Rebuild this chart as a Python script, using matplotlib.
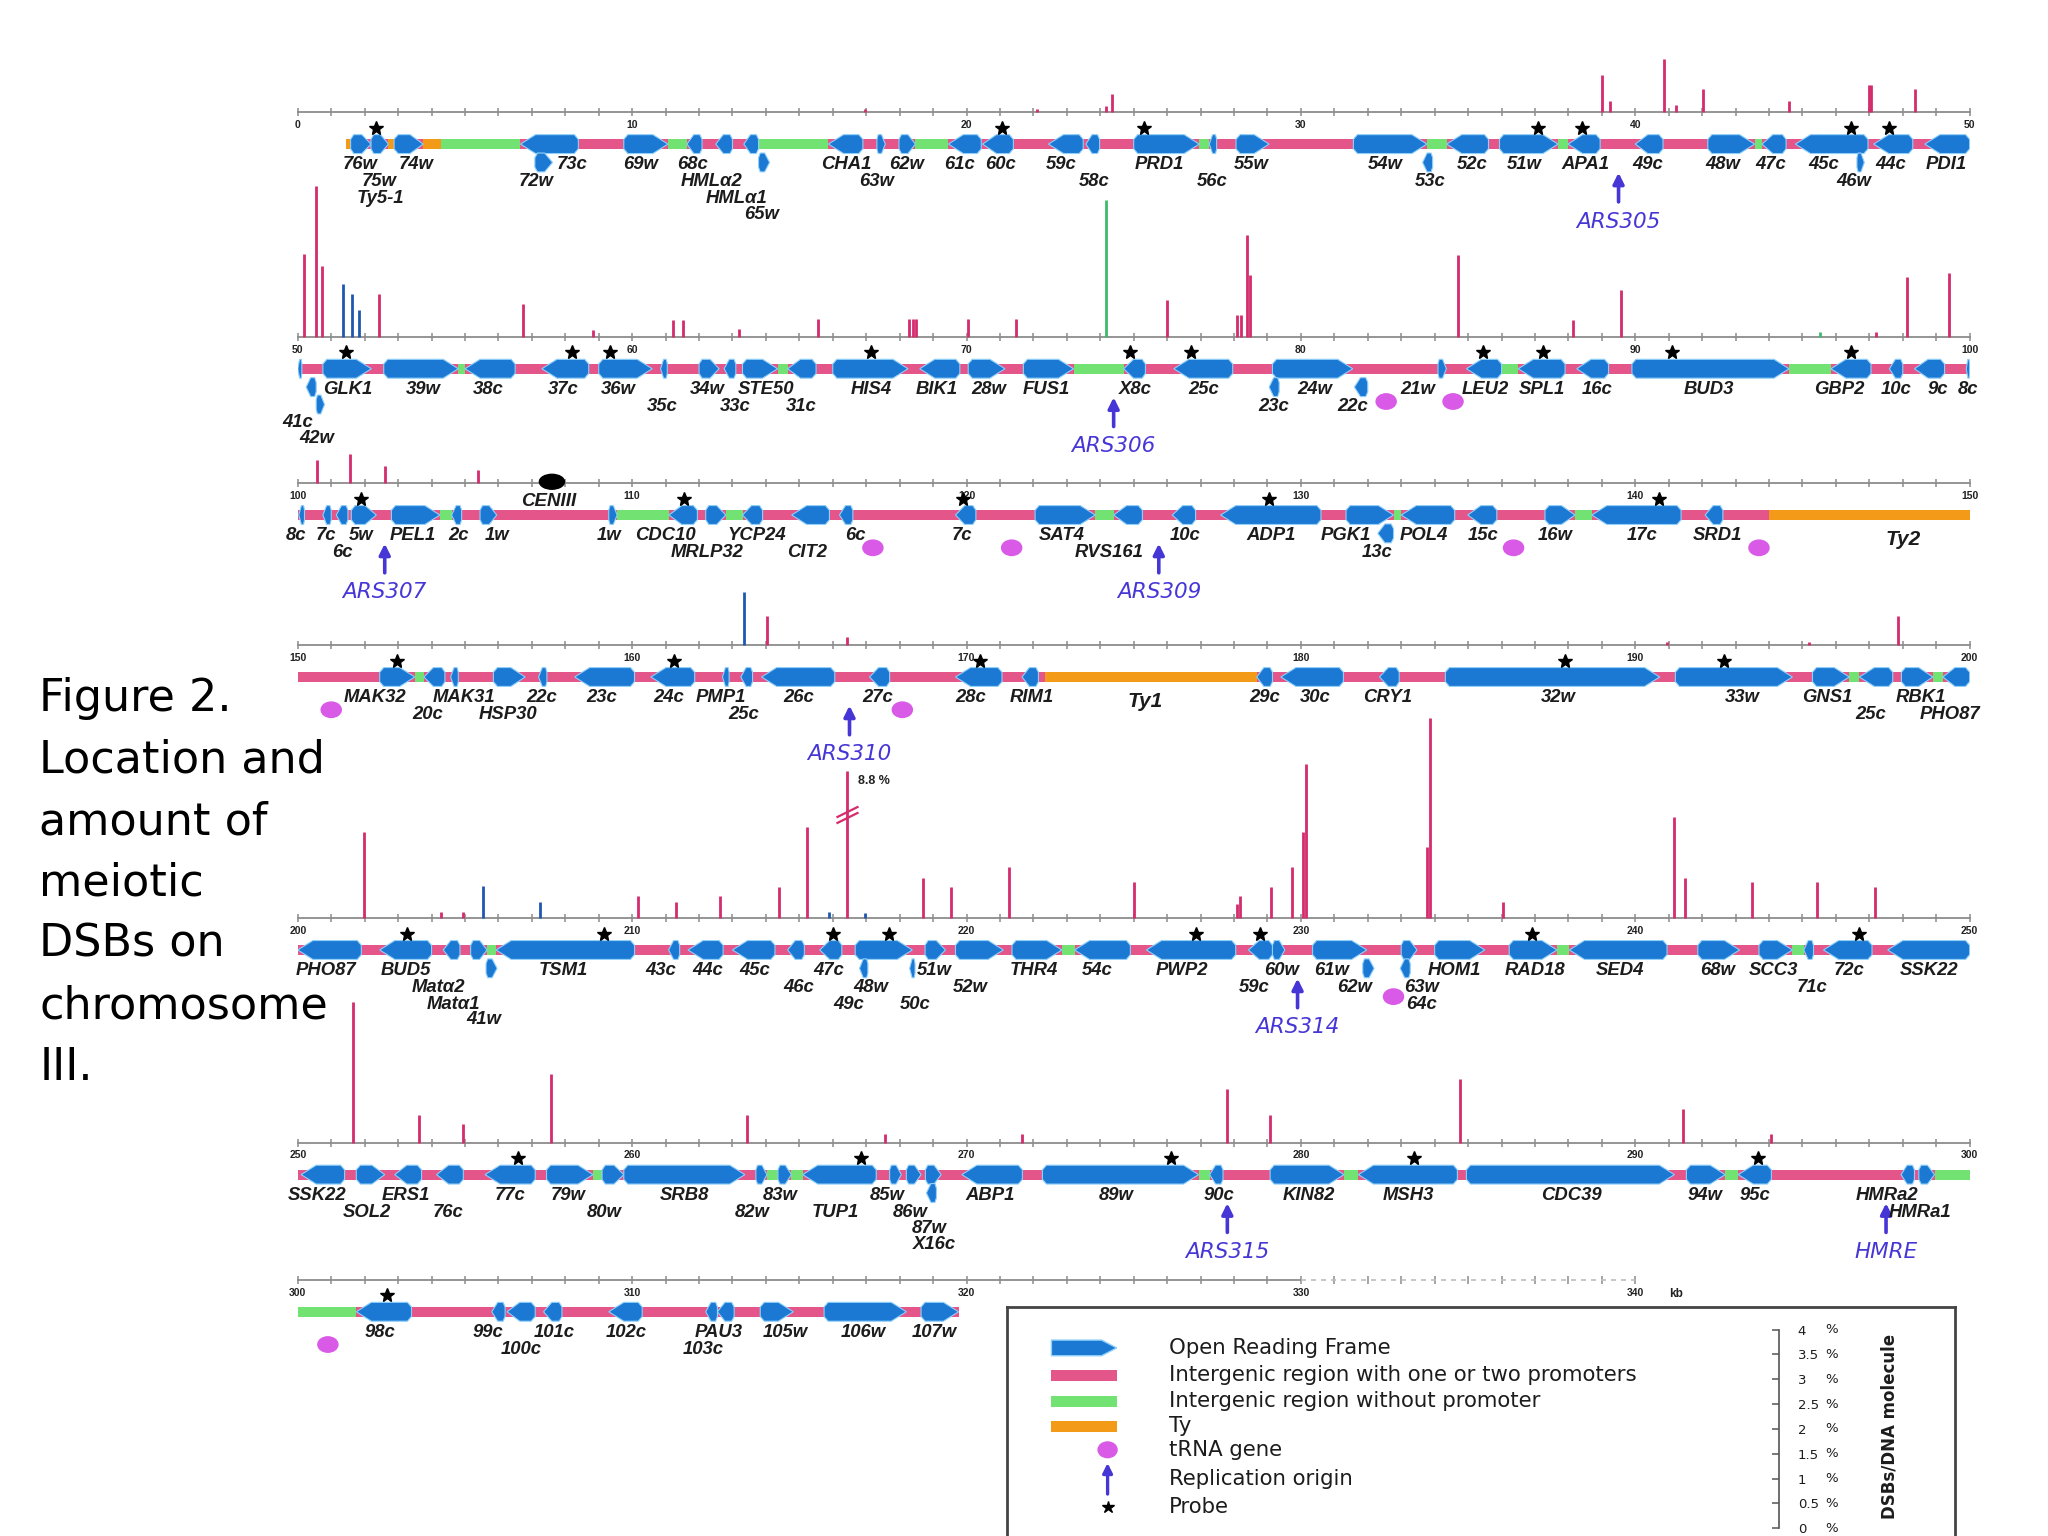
import matplotlib
matplotlib.use("Agg")
import matplotlib.pyplot as plt
from matplotlib.patches import Polygon, Rectangle, Ellipse
from matplotlib.ticker import FixedLocator, FixedFormatter
from matplotlib import font_manager as fm

# ---------------- DATA : positions in kb along chromosome III, DSBs in % ----------------
ROW_STARTS = [0, 50, 100, 150, 200, 250, 300]
CHR_START, CHR_END = 1.45, 319.76

green_regions = [(4.29, 6.66), (11.07, 11.64), (13.78, 15.87), (18.47, 19.46), (26.96, 27.26),
                 (33.77, 34.36), (37.69, 37.99), (43.57, 43.79),
                 (54.8, 55.0), (64.35, 64.65), (73.2, 74.7), (86.0, 86.5), (94.6, 95.85),
                 (104.25, 104.6), (109.55, 111.1), (112.8, 113.3), (123.85, 124.4), (132.77, 133.0),
                 (138.2, 138.7), (153.5, 153.77), (196.4, 196.7), (198.9, 199.2),
                 (205.66, 205.93), (222.85, 223.23), (237.66, 238.03), (244.7, 245.04),
                 (258.83, 259.1), (264.03, 264.36), (264.76, 265.1), (276.94, 277.27), (281.29, 281.72),
                 (292.69, 293.08), (298.95, 301.75)]
ty_regions = [(1.45, 1.58), (2.71, 2.88), (3.75, 4.29), (143.99, 150.0), (172.35, 178.68)]

# open reading frames on the main track: (start, end, strand)
orfs = [
    (1.58, 2.19, 'w'), (2.19, 2.71, 'w'), (2.88, 3.75, 'w'), (6.66, 8.39, 'c'), (9.75, 11.07, 'w'),
    (11.64, 12.09, 'c'), (12.5, 13.0, 'c'), (13.34, 13.78, 'c'), (15.87, 16.9, 'c'), (17.32, 17.57, 'w'),
    (17.98, 18.47, 'w'), (19.46, 20.44, 'c'), (20.48, 21.4, 'c'), (22.45, 23.49, 'c'), (23.57, 23.98, 'c'),
    (25.0, 26.96, 'w'), (27.26, 27.48, 'c'), (28.06, 29.05, 'w'), (31.57, 33.77, 'w'), (34.36, 35.61, 'c'),
    (35.94, 37.69, 'w'), (37.99, 38.95, 'c'), (40.0, 40.83, 'c'), (42.17, 43.57, 'w'), (43.79, 44.51, 'c'),
    (44.79, 46.96, 'c'), (47.13, 48.3, 'c'), (48.66, 50.0, 'c'),
    (50.0, 50.12, 'c'), (50.75, 52.2, 'w'), (52.57, 54.8, 'w'), (55.0, 56.5, 'c'), (57.3, 58.7, 'c'),
    (59.0, 60.6, 'w'), (60.85, 61.05, 'c'), (62.0, 62.6, 'w'), (62.75, 63.1, 'c'), (63.3, 64.35, 'w'),
    (64.65, 65.5, 'c'), (66.0, 68.25, 'w'), (68.6, 69.8, 'c'), (70.05, 71.15, 'w'), (71.7, 73.2, 'w'),
    (74.7, 75.35, 'c'), (76.2, 77.96, 'c'), (79.15, 81.55, 'w'), (84.1, 84.35, 'w'), (84.95, 86.0, 'c'),
    (86.5, 87.9, 'c'), (88.25, 89.2, 'c'), (89.9, 94.6, 'w'), (95.85, 97.05, 'c'), (97.6, 98.0, 'c'),
    (98.35, 99.25, 'c'), (99.9, 100.0, 'c'),
    (100.03, 100.2, 'c'), (100.75, 101.0, 'c'), (101.15, 101.5, 'c'), (101.6, 102.35, 'w'),
    (102.8, 104.25, 'w'), (104.6, 104.9, 'c'), (105.45, 105.95, 'w'), (109.3, 109.55, 'w'),
    (111.1, 111.95, 'c'), (112.2, 112.8, 'w'), (113.3, 113.9, 'c'), (114.77, 115.9, 'c'), (116.2, 116.6, 'c'),
    (119.67, 120.28, 'c'), (122.05, 123.85, 'w'), (124.4, 125.26, 'c'), (126.15, 126.85, 'c'),
    (127.6, 130.6, 'c'), (131.35, 132.77, 'w'), (133.0, 134.6, 'c'), (134.99, 135.86, 'c'),
    (137.3, 138.2, 'w'), (138.7, 141.37, 'c'), (142.09, 142.62, 'c'),
    (152.45, 153.5, 'w'), (153.77, 154.4, 'c'), (154.57, 154.8, 'c'), (155.85, 156.8, 'w'),
    (157.2, 157.45, 'c'), (158.28, 160.07, 'c'), (160.56, 161.87, 'c'), (162.7, 162.9, 'c'),
    (163.25, 163.6, 'c'), (163.87, 166.06, 'c'), (167.1, 167.7, 'c'), (169.67, 171.06, 'c'),
    (171.66, 172.15, 'c'), (178.68, 179.15, 'c'), (179.4, 181.27, 'c'), (182.35, 182.94, 'c'),
    (184.32, 190.73, 'w'), (191.2, 194.7, 'w'), (195.3, 196.4, 'w'), (196.7, 197.7, 'c'),
    (197.96, 198.9, 'w'), (199.2, 200.0, 'c'),
    (200.0, 201.9, 'c'), (202.45, 204.0, 'c'), (204.35, 204.85, 'c'), (205.17, 205.66, 'w'),
    (205.93, 210.07, 'c'), (211.09, 211.42, 'c'), (211.67, 212.72, 'c'), (213.0, 214.27, 'c'),
    (214.65, 215.15, 'c'), (215.61, 216.27, 'c'), (216.67, 218.38, 'w'), (218.76, 219.37, 'w'),
    (219.67, 221.1, 'w'), (221.36, 222.85, 'w'), (223.23, 224.9, 'c'), (225.38, 228.05, 'c'),
    (228.43, 229.15, 'c'), (229.15, 229.52, 'w'), (230.35, 231.97, 'w'), (233.0, 233.47, 'w'),
    (234.0, 235.5, 'w'), (236.23, 237.66, 'w'), (238.03, 240.95, 'c'), (241.87, 243.12, 'w'),
    (243.7, 244.7, 'w'), (245.04, 245.33, 'c'), (245.63, 247.08, 'c'), (247.55, 250.0, 'c'),
    (250.1, 251.4, 'c'), (251.75, 252.6, 'w'), (252.9, 253.7, 'c'), (254.15, 254.95, 'c'),
    (255.6, 257.1, 'c'), (257.44, 258.83, 'w'), (259.1, 259.75, 'w'), (259.75, 263.37, 'w'),
    (263.7, 264.03, 'w'), (264.36, 264.76, 'w'), (265.1, 267.3, 'c'), (267.7, 268.05, 'w'),
    (268.2, 268.64, 'w'), (268.77, 269.24, 'w'), (269.86, 271.67, 'c'), (272.27, 276.94, 'w'),
    (277.27, 277.67, 'c'), (279.08, 281.29, 'w'), (281.72, 284.68, 'c'), (284.95, 291.17, 'w'),
    (291.53, 292.69, 'w'), (293.08, 294.07, 'c'), (297.95, 298.35, 'c'), (298.48, 298.95, 'w'),
    (301.75, 303.4, 'c'), (305.8, 306.2, 'c'), (306.26, 307.1, 'c'), (307.35, 307.9, 'c'),
    (309.3, 310.3, 'c'), (312.2, 312.55, 'c'), (312.55, 313.05, 'c'), (313.83, 314.82, 'w'),
    (315.74, 318.2, 'w'), (318.64, 319.76, 'w'),
]
# ORFs drawn just below the track: (start, end, strand, lane)
offset_orfs = [(7.09, 7.62, 'w', 1), (13.78, 14.11, 'w', 1), (33.64, 33.94, 'c', 1), (46.63, 46.85, 'w', 1),
               (50.25, 50.55, 'c', 1), (50.55, 50.8, 'w', 2), (79.05, 79.35, 'c', 1), (81.6, 82.0, 'c', 1),
               (132.3, 132.77, 'c', 1), (205.63, 205.96, 'w', 1), (216.8, 217.05, 'c', 1),
               (218.3, 218.46, 'c', 1), (231.85, 232.19, 'w', 1), (232.97, 233.27, 'c', 1),
               (268.8, 269.1, 'c', 1)]

gene_labels = [
    ("76w", 1.86, 1), ("75w", 2.43, 2), ("Ty5-1", 2.48, 3), ("74w", 3.54, 1), ("72w", 7.12, 2),
    ("73c", 8.19, 1), ("69w", 10.25, 1), ("68c", 11.81, 1), ("HMLα2", 12.38, 2), ("HMLα1", 13.13, 3),
    ("65w", 13.87, 4), ("CHA1", 16.41, 1), ("63w", 17.32, 2), ("62w", 18.22, 1), ("61c", 19.79, 1),
    ("60c", 21.02, 1), ("59c", 22.83, 1), ("58c", 23.82, 2), ("PRD1", 25.76, 1), ("56c", 27.35, 2),
    ("55w", 28.51, 1), ("54w", 32.52, 1), ("53c", 33.86, 2), ("52c", 35.11, 1), ("51w", 36.69, 1),
    ("APA1", 38.5, 1), ("49c", 40.37, 1), ("48w", 42.62, 1), ("47c", 44.04, 1), ("45c", 45.63, 1),
    ("46w", 46.54, 2), ("44c", 47.63, 1), ("PDI1", 49.3, 1),
    ("41c", 50.0, 3), ("42w", 50.58, 4), ("GLK1", 51.5, 1), ("39w", 53.76, 1), ("38c", 55.7, 1),
    ("37c", 57.95, 1), ("36w", 59.6, 1), ("35c", 60.9, 2), ("34w", 62.25, 1), ("33c", 63.08, 2),
    ("STE50", 63.99, 1), ("31c", 65.07, 2), ("HIS4", 67.14, 1), ("BIK1", 69.12, 1), ("28w", 70.66, 1),
    ("FUS1", 72.4, 1), ("X8c", 75.05, 1), ("25c", 77.1, 1), ("23c", 79.2, 2), ("24w", 80.4, 1),
    ("22c", 81.55, 2), ("21w", 83.5, 1), ("LEU2", 85.5, 1), ("SPL1", 87.2, 1), ("16c", 88.85, 1),
    ("BUD3", 92.2, 1), ("GBP2", 96.1, 1), ("10c", 97.8, 1), ("9c", 99.05, 1),
    ("8c", 99.95, 1), ("7c", 100.83, 1), ("6c", 101.32, 2), ("5w", 101.9, 1), ("PEL1", 103.44, 1),
    ("2c", 104.8, 1), ("1w", 105.96, 1), ("1w", 109.3, 1), ("CDC10", 110.98, 1), ("MRLP32", 112.25, 2),
    ("YCP24", 113.74, 1), ("CIT2", 115.23, 2), ("6c", 116.69, 1), ("7c", 119.87, 1), ("SAT4", 122.85, 1),
    ("RVS161", 124.26, 2), ("10c", 126.54, 1), ("ADP1", 129.1, 1), ("PGK1", 131.35, 1), ("13c", 132.28, 2),
    ("POL4", 133.69, 1), ("15c", 135.44, 1), ("16w", 137.6, 1), ("17c", 140.2, 1), ("SRD1", 142.45, 1),
    ("MAK32", 152.32, 1), ("20c", 153.89, 2), ("MAK31", 154.97, 1), ("HSP30", 156.3, 2), ("22c", 157.28, 1),
    ("23c", 159.1, 1), ("24c", 161.09, 1), ("PMP1", 162.66, 1), ("25c", 163.33, 2), ("26c", 164.98, 1),
    ("27c", 167.34, 1), ("28c", 170.12, 1), ("RIM1", 171.94, 1), ("29c", 178.93, 1), ("30c", 180.43, 1),
    ("CRY1", 182.6, 1), ("32w", 187.69, 1), ("33w", 193.2, 1), ("GNS1", 195.74, 1), ("25c", 197.05, 2),
    ("RBK1", 198.55, 1), ("PHO87", 199.4, 2),
    ("PHO87", 200.83, 1), ("BUD5", 203.23, 1), ("Matα2", 204.22, 2), ("Matα1", 204.64, 3), ("41w", 205.55, 4),
    ("TSM1", 207.95, 1), ("43c", 210.84, 1), ("44c", 212.25, 1), ("45c", 213.66, 1), ("46c", 214.98, 2),
    ("47c", 215.89, 1), ("48w", 217.14, 2), ("49c", 216.47, 3), ("50c", 218.46, 3), ("51w", 219.04, 1),
    ("52w", 220.12, 2), ("THR4", 222.02, 1), ("54c", 223.92, 1), ("PWP2", 226.43, 1), ("59c", 228.6, 2),
    ("60w", 229.43, 1), ("61w", 230.93, 1), ("62w", 231.6, 2), ("63w", 233.6, 2), ("64c", 233.6, 3),
    ("HOM1", 234.6, 1), ("RAD18", 236.99, 1), ("SED4", 239.53, 1), ("68w", 242.45, 1), ("SCC3", 244.12, 1),
    ("71c", 245.29, 2), ("72c", 246.38, 1), ("SSK22", 248.8, 1),
    ("SSK22", 250.59, 1), ("SOL2", 252.08, 2), ("ERS1", 253.23, 1), ("76c", 254.48, 2), ("77c", 256.36, 1),
    ("79w", 258.1, 1), ("80w", 259.16, 2), ("SRB8", 261.56, 1), ("82w", 263.6, 2), ("83w", 264.43, 1),
    ("TUP1", 266.07, 2), ("85w", 267.62, 1), ("86w", 268.31, 2), ("87w", 268.87, 3), ("X16c", 269.04, 4),
    ("ABP1", 270.69, 1), ("89w", 274.47, 1), ("90c", 277.54, 1), ("KIN82", 280.24, 1), ("MSH3", 283.2, 1),
    ("CDC39", 288.08, 1), ("94w", 292.09, 1), ("95c", 293.58, 1), ("HMRa2", 297.53, 1), ("HMRa1", 298.52, 2),
    ("98c", 302.47, 1), ("99c", 305.7, 1), ("100c", 306.69, 2), ("101c", 307.67, 1), ("102c", 309.82, 1),
    ("PAU3", 312.6, 1), ("103c", 312.12, 2), ("105w", 314.59, 1), ("106w", 316.9, 1), ("107w", 319.04, 1),
]
ty_labels = [("Ty2", 148.0), ("Ty1", 175.35)]

probes = [2.34, 21.05, 25.3, 37.1, 38.4, 46.45, 47.6, 51.45, 58.2, 59.35, 67.15, 74.9, 76.7, 85.45,
          87.25, 91.1, 96.45, 101.9, 111.56, 119.9, 129.05, 140.7, 152.98, 161.26, 170.4, 187.9,
          192.65, 203.26, 209.16, 216.0, 217.67, 226.85, 228.77, 236.9, 246.68, 256.6, 266.83,
          276.12, 283.37, 293.68, 302.67]
trna_kb = [82.55, 84.55, 117.2, 121.35, 136.36, 143.7, 151.0, 168.08, 232.77, 300.9]
trna_lane = [0, 0, 0, 0, 0, 0, 0, 0, 1, 0]
origins = [("ARS305", 39.5), ("ARS306", 74.4), ("ARS307", 102.6), ("ARS309", 125.75),
           ("ARS310", 166.5), ("ARS314", 229.9), ("ARS315", 277.8), ("HMRE", 297.5)]
centromere_kb = 107.6

# meiotic DSBs: (kb, % DSBs/DNA molecule, kind)  kind: r = pink, b = blue, g = green
dsb_row1 = [(16.96, 0.06, 'r'), (22.1, 0.06, 'r'), (24.18, 0.13, 'r'), (24.36, 0.37, 'r'),
            (39.0, 0.76, 'r'), (39.23, 0.23, 'r'), (40.87, 1.08, 'r'), (41.23, 0.14, 'r'),
            (42.03, 0.46, 'r'), (44.59, 0.23, 'r'), (46.98, 0.56, 'r'), (47.05, 0.56, 'r'), (48.38, 0.46, 'r')]
dsb_row2 = [(50.2, 1.67, 'r'), (50.55, 3.05, 'r'), (50.71, 1.43, 'r'), (51.36, 1.06, 'b'),
            (51.62, 0.86, 'b'), (51.82, 0.55, 'b'), (52.42, 0.86, 'r'), (56.74, 0.66, 'r'),
            (58.82, 0.15, 'r'), (61.21, 0.35, 'r'), (61.51, 0.35, 'r'), (63.21, 0.17, 'r'),
            (65.56, 0.36, 'r'), (68.29, 0.36, 'r'), (68.41, 0.36, 'r'), (68.5, 0.36, 'r'),
            (70.03, 0.36, 'r'), (71.49, 0.36, 'r'), (74.17, 2.76, 'g'), (76.01, 0.74, 'r'),
            (78.1, 0.44, 'r'), (78.2, 0.44, 'r'), (78.38, 2.06, 'r'), (78.48, 1.25, 'r'),
            (84.69, 1.66, 'r'), (88.15, 0.34, 'r'), (89.58, 0.95, 'r'), (95.51, 0.11, 'g'),
            (97.21, 0.11, 'r'), (98.13, 1.2, 'r'), (99.38, 1.28, 'r')]
dsb_row3 = [(100.58, 0.47, 'r'), (101.57, 0.58, 'r'), (102.62, 0.35, 'r'), (105.38, 0.26, 'r')]
dsb_row4 = [(163.33, 1.08, 'b'), (164.02, 0.58, 'r'), (166.42, 0.17, 'r'), (190.95, 0.06, 'r'),
            (195.2, 0.06, 'r'), (197.87, 0.58, 'r')]
dsb_row5 = [(201.99, 1.74, 'r'), (204.27, 0.13, 'r'), (204.93, 0.13, 'r'), (205.53, 0.64, 'b'),
            (207.25, 0.33, 'b'), (210.18, 0.45, 'r'), (211.31, 0.33, 'r'), (212.63, 0.45, 'r'),
            (214.4, 0.62, 'r'), (215.23, 1.84, 'r'), (215.89, 0.13, 'b'), (216.44, 8.8, 'r'),
            (216.97, 0.11, 'b'), (218.71, 0.82, 'r'), (219.54, 0.62, 'r'), (221.27, 1.03, 'r'),
            (225.0, 0.72, 'r'), (228.1, 0.28, 'r'), (228.18, 0.44, 'r'), (229.1, 0.62, 'r'),
            (229.73, 1.03, 'r'), (230.07, 1.74, 'r'), (230.15, 3.1, 'r'), (233.77, 1.43, 'r'),
            (233.85, 4.03, 'r'), (236.03, 0.33, 'r'), (241.17, 2.04, 'r'), (241.5, 0.82, 'r'),
            (243.5, 0.72, 'r'), (245.43, 0.72, 'r'), (247.16, 0.62, 'r')]
dsb_row6 = [(251.65, 2.84, 'r'), (253.62, 0.56, 'r'), (254.94, 0.37, 'r'), (257.58, 1.39, 'r'),
            (263.44, 0.57, 'r'), (267.56, 0.17, 'r'), (271.67, 0.17, 'r'), (277.8, 1.08, 'r'),
            (279.08, 0.57, 'r'), (284.75, 1.28, 'r'), (291.44, 0.68, 'r'), (294.07, 0.17, 'r')]
dsb_rows = [dsb_row1, dsb_row2, dsb_row3, dsb_row4, dsb_row5, dsb_row6, []]
BREAK_ABOVE = 5.0       # values above this are drawn broken (the 8.8 % peak)
BROKEN_HEIGHT = 2.97    # drawn height of a broken bar

legend_items = ["Open Reading Frame", "Intergenic region with one or two promoters",
                "Intergenic region without promoter", "Ty", "tRNA gene", "Replication origin", "Probe"]
scale_ticks = [0, 0.5, 1, 1.5, 2, 2.5, 3, 3.5, 4]
caption_lines = ["Figure 2.", "Location and", "amount of", "meiotic", "DSBs on", "chromosome", "III."]

# ---------------- STYLE ----------------
C_BLUE, C_EDGE = "#1b78d3", "#8fd0fa"
C_PINK, C_GREEN, C_ORANGE = "#e4568a", "#72e272", "#f39a18"
C_TRNA, C_ARS = "#d95ae6", "#4636d6"
DSB_COL = {'r': "#d42c6c", 'b': "#1e58b0", 'g': "#3dbb6c"}
AX_COL = "#8c8c8c"

avail = {f.name for f in fm.fontManager.ttflist}
LAB_FONT = "Liberation Sans" if "Liberation Sans" in avail else "DejaVu Sans"
NARROW = "Liberation Sans Narrow" if "Liberation Sans Narrow" in avail else LAB_FONT

SW, SH = 1568.0, 1176.0           # layout frame
PXU = 38.0                        # layout px per 1 % DSB
AXIS_Y = [86, 258, 370, 494, 703, 875, 980]
X0, X1 = 228, 1508
BELOW, ABOVE = 112, 178
TRACK_Y = -0.64
ORF_H, BAR_H = 0.38, 0.2
LANE_Y = [TRACK_Y, TRACK_Y - 0.37, TRACK_Y - 0.72]
LEVEL_Y = {1: -1.06, 2: -1.40, 3: -1.73, 4: -2.05}
STAR_Y = -0.31
TRNA_Y = [-1.3, -1.58]

fig = plt.figure(figsize=(20.48, 15.36), dpi=100)
fig.patch.set_facecolor("white")


def orf_shape(s, e, strand, y, h):
    L = e - s
    tip = min(0.45, 0.45 * L)
    back = min(0.12, 0.15 * L)
    ys = [y - h / 2, y - h / 2, y, y + h / 2, y + h / 2, y + h / 4, y - h / 4]
    if strand == 'w':
        xs = [s + back, e - tip, e, e - tip, s + back, s, s]
    else:
        xs = [e - back, s + tip, s, s + tip, e - back, e, e]
    return list(zip(xs, ys))


for r, start in enumerate(ROW_STARTS):
    end = start + 50
    bottom = 1 - (AXIS_Y[r] + BELOW) / SH
    ax = fig.add_axes([X0 / SW, bottom, (X1 - X0) / SW, (BELOW + ABOVE) / SH])
    ax.set_xlim(start, end)
    ax.set_ylim(-BELOW / PXU, ABOVE / PXU)
    ax.patch.set_visible(False)
    for s in ("top", "left", "right"):
        ax.spines[s].set_visible(False)
    ax.set_yticks([])
    axis_end = 340 if start == 300 else end
    solid_end = 330 if start == 300 else end
    sp = ax.spines["bottom"]
    sp.set_position(("data", 0))
    sp.set_bounds(start, solid_end)
    sp.set_color(AX_COL)
    sp.set_linewidth(1.3)
    sp.set_zorder(0.5)
    if axis_end > solid_end:
        ax.hlines(0, solid_end, axis_end, colors="#bdbdbd", lw=1.2, linestyles=(0, (3, 3)))
    majors = list(range(start, axis_end + 1, 10))
    ax.xaxis.set_major_locator(FixedLocator(majors))
    ax.xaxis.set_minor_locator(FixedLocator(list(range(start, axis_end + 1))))
    ax.xaxis.set_major_formatter(FixedFormatter([str(m) for m in majors]))
    ax.tick_params(axis="x", which="both", direction="inout", length=6, width=1.1, colors=AX_COL,
                   labelcolor="#222222", labelsize=7.5, pad=2.5)
    for t in ax.get_xticklabels():
        t.set_fontfamily(NARROW)
        t.set_fontweight("bold")
    if start == 300:
        ax.text(341.0, -0.29, "kb", fontsize=8.5, fontweight="bold", family=NARROW,
                va="center", ha="left", color="#222222")

    # --- DSB bars ---
    for kb, v, kind in dsb_rows[r]:
        h = BROKEN_HEIGHT if v > BREAK_ABOVE else v
        ax.vlines(kb, 0, h, colors=DSB_COL[kind], lw=2.0, zorder=3)
        if v > BREAK_ABOVE:
            for dy in (0.0, 0.12):
                ax.plot([kb - 0.3, kb + 0.3], [1.92 + dy, 2.12 + dy], color=DSB_COL[kind], lw=1.6, zorder=4)
            ax.text(kb + 0.3, h - 0.2, f"{v:.1f} %", fontsize=9, fontweight="bold", family=NARROW,
                    ha="left", va="center", color="#222222")

    # --- track background ---
    lo, hi = max(CHR_START, start), min(CHR_END, end)
    if hi > lo:
        ax.add_patch(Rectangle((lo, TRACK_Y - BAR_H / 2), hi - lo, BAR_H, color=C_PINK, lw=0, zorder=1))
    for regs, col in ((green_regions, C_GREEN), (ty_regions, C_ORANGE)):
        for a, b in regs:
            a2, b2 = max(a, start), min(b, end)
            if b2 > a2:
                ax.add_patch(Rectangle((a2, TRACK_Y - BAR_H / 2), b2 - a2, BAR_H, color=col, lw=0, zorder=1.2))

    # --- ORFs ---
    for s, e, strand in orfs:
        if start <= s < end:
            ax.add_patch(Polygon(orf_shape(s, e, strand, TRACK_Y, ORF_H), closed=True, facecolor=C_BLUE,
                                 edgecolor=C_EDGE, lw=0.8, zorder=2))
    for s, e, strand, lane in offset_orfs:
        if start <= s < end:
            ax.add_patch(Polygon(orf_shape(s, e, strand, LANE_Y[lane], ORF_H), closed=True,
                                 facecolor=C_BLUE, edgecolor=C_EDGE, lw=0.8, zorder=2))

    # --- labels ---
    for name, kb, lev in gene_labels:
        if start - 0.5 <= kb < end:
            ax.text(kb, LEVEL_Y[lev], name, fontsize=13.3, fontweight="bold", fontstyle="italic",
                    family=LAB_FONT, ha="center", va="center", color="#1c1c1c", zorder=5)
    for name, kb in ty_labels:
        if start <= kb < end:
            ax.text(kb, LEVEL_Y[1] - 0.08, name, fontsize=15, fontweight="bold", fontstyle="italic",
                    family=LAB_FONT, ha="center", va="center", color="#1c1c1c")

    # --- probes ---
    pk = [p for p in probes if start <= p < end]
    ax.plot(pk, [STAR_Y] * len(pk), ls="none", marker="*", ms=10, color="black", zorder=6)

    # --- tRNA genes ---
    for kb, lane in zip(trna_kb, trna_lane):
        if start <= kb < end:
            ax.add_patch(Ellipse((kb, TRNA_Y[lane]), 0.6, 0.31, color=C_TRNA, zorder=4))

    # --- replication origins ---
    for name, kb in origins:
        if start <= kb < end:
            ax.annotate("", xy=(kb, -1.16), xytext=(kb, -1.86),
                        arrowprops=dict(arrowstyle="-|>", color=C_ARS, lw=2.6, mutation_scale=16))
            ax.text(kb, -2.2, name, fontsize=15.5, fontstyle="italic", family="DejaVu Sans",
                    ha="center", va="center", color=C_ARS)

    # --- centromere ---
    if start <= centromere_kb < end:
        ax.add_patch(Ellipse((centromere_kb, 0.03), 0.75, 0.3, color="black", zorder=6))
        ax.text(centromere_kb - 0.1, -0.36, "CENIII", fontsize=13.5, fontweight="bold",
                fontstyle="italic", family=LAB_FONT, ha="center", va="center", color="#1c1c1c")

# ---------------- caption (one text per line) ----------------
CAP_TOP, CAP_STEP = 535, 47.0
for i, line in enumerate(caption_lines):
    fig.text(30 / SW, 1 - (CAP_TOP + i * CAP_STEP) / SH, line, fontsize=32, ha="left",
             va="center", color="black", family="DejaVu Sans")

# ---------------- legend box ----------------
lx0, lx1, ly0 = 771, 1497, 1001
box_h = (SH - ly0) / SH + 0.02          # figure-fraction height of the legend axes
lax = fig.add_axes([lx0 / SW, -0.02, (lx1 - lx0) / SW, box_h])
lax.set_xlim(0, 1)
lax.set_ylim(0, 1)
lax.set_xticks([])
lax.set_yticks([])
for s in lax.spines.values():
    s.set_color("#444444")
    s.set_linewidth(2)
lax.patch.set_facecolor("white")


def ly(y_layout):                       # layout y -> legend axes fraction
    return (1 - y_layout / SH + 0.02) / box_h


def lxf(x_layout):
    return (x_layout - lx0) / (lx1 - lx0)


row_y = [1032, 1053, 1073, 1092, 1110, 1132, 1154]
sym_x0, sym_x1 = lxf(805), lxf(855)
yy = ly(row_y[0]); hh = ly(1025) - ly(1037)
lax.add_patch(Polygon([(sym_x0, yy - hh / 2), (sym_x1 - 0.016, yy - hh / 2), (sym_x1, yy),
                       (sym_x1 - 0.016, yy + hh / 2), (sym_x0, yy + hh / 2)], closed=True,
                      facecolor=C_BLUE, edgecolor=C_EDGE, lw=1))
for i, col in zip((1, 2, 3), (C_PINK, C_GREEN, C_ORANGE)):
    bh = ly(row_y[i] - 4) - ly(row_y[i] + 4)
    lax.add_patch(Rectangle((sym_x0, ly(row_y[i]) - bh / 2), sym_x1 - sym_x0, bh, color=col, lw=0))
mx = lxf(848)
lax.add_patch(Ellipse((mx, ly(row_y[4])), 0.02, ly(1104) - ly(1116), color=C_TRNA))
lax.annotate("", xy=(mx, ly(1118)), xytext=(mx, ly(1146)),
             arrowprops=dict(arrowstyle="-|>", color=C_ARS, lw=2.4, mutation_scale=14))
lax.plot([mx], [ly(row_y[6])], marker="*", ms=9, color="black")
for txt, y in zip(legend_items, row_y):
    lax.text(lxf(895), ly(y), txt, fontsize=15.3, ha="left", va="center", color="#1c1c1c",
             family="DejaVu Sans")

# ---------------- DSB scale ----------------
sax = fig.add_axes([1362 / SW, 1 - 1170 / SH, 0.0004, (1170 - 1018) / SH])
sax.set_ylim(0, 4)
sax.set_xticks([])
for s in ("top", "bottom", "right"):
    sax.spines[s].set_visible(False)
sax.spines["left"].set_color("#555555")
sax.spines["left"].set_linewidth(1.2)
sax.set_yticks(scale_ticks)
sax.set_yticklabels([f"{v:g}" for v in scale_ticks])
sax.tick_params(axis="y", left=True, right=False, labelleft=False, labelright=True,
                direction="out", length=5, width=1.1, colors="#555555", labelcolor="#1c1c1c",
                labelsize=9.5, pad=8)
for v in scale_ticks:
    sax.annotate("%", xy=(1, v), xycoords=sax.get_yaxis_transform(), xytext=(33, 0),
                 textcoords="offset points", fontsize=9.5, ha="left", va="center", color="#1c1c1c")
fig.text(1447 / SW, 1 - 1092 / SH, "DSBs/DNA molecule", rotation=90, fontsize=12,
         fontweight="bold", ha="center", va="center", color="#1c1c1c")

fig.savefig("out.png", dpi=100, facecolor="white")
